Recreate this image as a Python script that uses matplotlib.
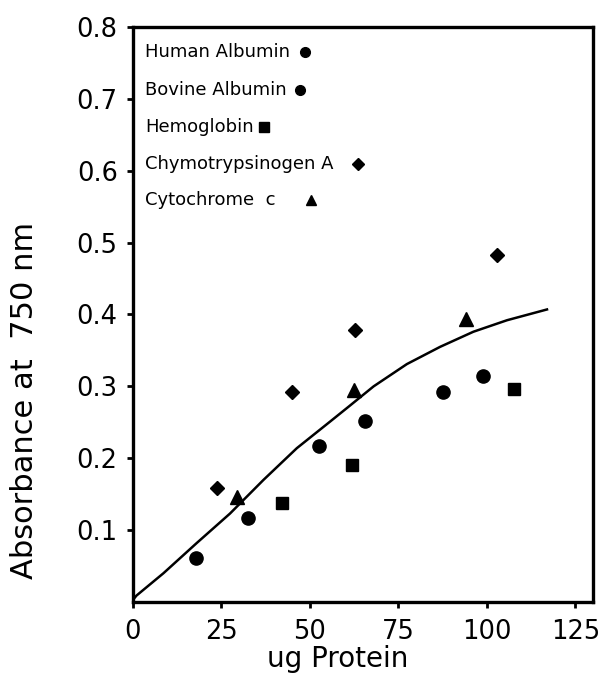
import matplotlib
matplotlib.use('Agg')
import matplotlib.pyplot as plt

# values
human_alb_x = [17.7, 32.4, 52.7, 65.6]
human_alb_y = [0.061, 0.117, 0.217, 0.252]
bovine_alb_x = [87.6, 98.8]
bovine_alb_y = [0.292, 0.315]
hemo_x = [42.0, 61.9, 107.8]
hemo_y = [0.138, 0.191, 0.297]
chymo_x = [23.8, 44.9, 62.6, 103.0]
chymo_y = [0.158, 0.292, 0.379, 0.483]
cyto_x = [29.5, 62.5, 94.1]
cyto_y = [0.146, 0.295, 0.394]

curve_x = [0, 1.0, 8.6, 18.0, 27.4, 36.9, 46.3, 55.7, 61.0, 68.0, 77.4, 86.8, 96.2, 105.7, 117.0]
curve_y = [0.003, 0.009, 0.040, 0.082, 0.123, 0.170, 0.214, 0.251, 0.272, 0.300, 0.331, 0.355, 0.376, 0.392, 0.407]

legend_names = ['Human Albumin', 'Bovine Albumin', 'Hemoglobin', 'Chymotrypsinogen A', 'Cytochrome  c']
legend_marks = ['o', 'o', 's', 'D', '^']

x_ticks = [0, 25, 50, 75, 100, 125]
y_ticks = [0.1, 0.2, 0.3, 0.4, 0.5, 0.6, 0.7, 0.8]

fig = plt.figure(figsize=(6.14, 6.81), dpi=100)
ax = fig.add_axes([0.2166, 0.116, 0.7492, 0.8444])

ax.plot(curve_x, curve_y, color='black', lw=1.8)
ax.plot(human_alb_x, human_alb_y, 'o', color='black', ms=9.5)
ax.plot(bovine_alb_x, bovine_alb_y, 'o', color='black', ms=9.5)
ax.plot(hemo_x, hemo_y, 's', color='black', ms=9)
ax.plot(chymo_x, chymo_y, 'D', color='black', ms=7.5)
ax.plot(cyto_x, cyto_y, '^', color='black', ms=10)

# legend written inside the frame, marker after the name
leg_y = [0.765, 0.712, 0.661, 0.609, 0.559]
leg_mx = [48.6, 47.2, 37.0, 63.6, 50.3]
for name, mk, yy, mx in zip(legend_names, legend_marks, leg_y, leg_mx):
    ax.text(3.4, yy, name, fontsize=13, va='center', ha='left')
    ax.plot(mx, yy, mk, color='black', ms=7 if mk != 'D' else 6)

ax.set_xlim(0, 130)
ax.set_ylim(0, 0.8)
ax.set_xticks(x_ticks)
ax.set_xticklabels([str(t) for t in x_ticks])
ax.set_yticks(y_ticks)
ax.set_yticklabels(['%.1f' % t for t in y_ticks])
ax.tick_params(labelsize=18.5, length=4, width=2, direction='out')
ax.tick_params(axis='x', pad=8)
ax.tick_params(axis='y', pad=7)
for s in ax.spines.values():
    s.set_linewidth(2.4)

ax.set_xlabel('ug Protein', fontsize=20)
ax.set_ylabel('Absorbance at  750 nm', fontsize=22)
ax.xaxis.set_label_coords(0.446, -0.074)
ax.yaxis.set_label_coords(-0.205, 0.351)

fig.savefig('out.png', dpi=100)
